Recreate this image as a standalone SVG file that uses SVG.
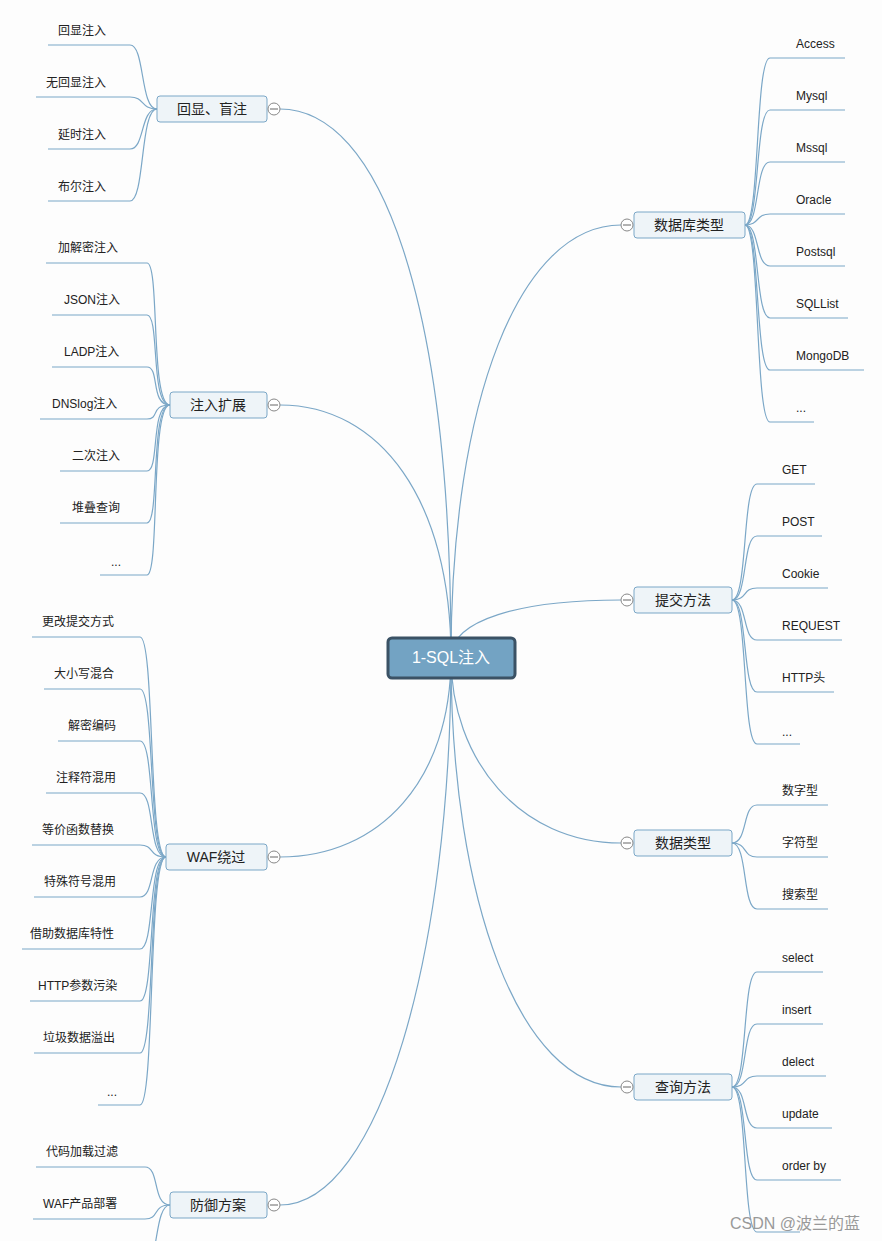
<svg xmlns="http://www.w3.org/2000/svg" width="882" height="1241" viewBox="0 0 882 1241">
<style>
.c{fill:none;stroke:#7ba7c7;stroke-width:1.2}
.n rect{fill:#eef4f8;stroke:#7ba7c7;stroke-width:1}
.n text{font-family:"Liberation Sans","Noto Sans CJK SC",sans-serif;font-size:14px;fill:#222;text-anchor:middle}
.l{font-family:"Liberation Sans","Noto Sans CJK SC",sans-serif;font-size:12px;fill:#222}
.k circle{fill:#fff;stroke:#888;stroke-width:1}
.k line{stroke:#666;stroke-width:1}
</style>
<rect width="882" height="1241" fill="#fdfdfd"/>
<g id="connectors">
<path class="c" d="M451,657 C451,300 380,109 280,109"/>
<path class="c" d="M451,657 C451,500 380,405 280,405"/>
<path class="c" d="M451,657 C451,780 380,857 280,857"/>
<path class="c" d="M451,657 C451,950 380,1205 280,1205"/>
<path class="c" d="M451,657 C451,400 520,225 621,225"/>
<path class="c" d="M451,657 C451,620 520,600 621,600"/>
<path class="c" d="M451,657 C451,760 520,843 621,843"/>
<path class="c" d="M451,657 C451,900 520,1087 621,1087"/>
<!-- 回显盲注 leaves -->
<path class="c" d="M157,109 C140,109 145,45 130,45 L48,45"/>
<path class="c" d="M157,109 C140,109 145,97 130,97 L36,97"/>
<path class="c" d="M157,109 C140,109 145,149 130,149 L48,149"/>
<path class="c" d="M157,109 C140,109 145,201 130,201 L48,201"/>
<!-- 注入扩展 leaves -->
<path class="c" d="M170,405 C150,405 160,263 147,263 L46,263"/>
<path class="c" d="M170,405 C150,405 160,315 147,315 L52,315"/>
<path class="c" d="M170,405 C150,405 160,367 147,367 L52,367"/>
<path class="c" d="M170,405 C150,405 160,419 147,419 L40,419"/>
<path class="c" d="M170,405 C150,405 160,471 147,471 L60,471"/>
<path class="c" d="M170,405 C150,405 160,523 147,523 L60,523"/>
<path class="c" d="M170,405 C150,405 160,575 147,575 L100,575"/>
<!-- WAF leaves -->
<path class="c" d="M166,857 C148,857 155,637 140,637 L32,637"/>
<path class="c" d="M166,857 C148,857 155,689 140,689 L44,689"/>
<path class="c" d="M166,857 C148,857 155,741 140,741 L58,741"/>
<path class="c" d="M166,857 C148,857 155,793 140,793 L46,793"/>
<path class="c" d="M166,857 C148,857 155,845 140,845 L32,845"/>
<path class="c" d="M166,857 C148,857 155,897 140,897 L34,897"/>
<path class="c" d="M166,857 C148,857 155,949 140,949 L22,949"/>
<path class="c" d="M166,857 C148,857 155,1001 140,1001 L30,1001"/>
<path class="c" d="M166,857 C148,857 155,1053 140,1053 L34,1053"/>
<path class="c" d="M166,857 C148,857 155,1105 140,1105 L98,1105"/>
<!-- 防御 leaves -->
<path class="c" d="M170,1205 C152,1205 160,1167 145,1167 L36,1167"/>
<path class="c" d="M170,1205 C152,1205 160,1219 145,1219 L33,1219"/>
<path class="c" d="M170,1205 C160,1205 158,1230 155,1245"/>
<!-- 数据库类型 leaves -->
<path class="c" d="M745,225 C760,225 755,58 770,58 L845,58"/>
<path class="c" d="M745,225 C760,225 755,110 770,110 L845,110"/>
<path class="c" d="M745,225 C760,225 755,162 770,162 L845,162"/>
<path class="c" d="M745,225 C760,225 755,214 770,214 L845,214"/>
<path class="c" d="M745,225 C760,225 755,266 770,266 L845,266"/>
<path class="c" d="M745,225 C760,225 755,318 770,318 L848,318"/>
<path class="c" d="M745,225 C760,225 755,370 770,370 L864,370"/>
<path class="c" d="M745,225 C760,225 755,422 770,422 L814,422"/>
<!-- 提交方法 leaves -->
<path class="c" d="M732,600 C748,600 742,484 757,484 L815,484"/>
<path class="c" d="M732,600 C748,600 742,536 757,536 L822,536"/>
<path class="c" d="M732,600 C748,600 742,588 757,588 L828,588"/>
<path class="c" d="M732,600 C748,600 742,640 757,640 L842,640"/>
<path class="c" d="M732,600 C748,600 742,692 757,692 L834,692"/>
<path class="c" d="M732,600 C748,600 742,744 757,744 L800,744"/>
<!-- 数据类型 leaves -->
<path class="c" d="M732,843 C748,843 742,805 757,805 L828,805"/>
<path class="c" d="M732,843 C748,843 742,857 757,857 L828,857"/>
<path class="c" d="M732,843 C748,843 742,909 757,909 L828,909"/>
<!-- 查询方法 leaves -->
<path class="c" d="M732,1087 C748,1087 742,972 757,972 L823,972"/>
<path class="c" d="M732,1087 C748,1087 742,1024 757,1024 L823,1024"/>
<path class="c" d="M732,1087 C748,1087 742,1076 757,1076 L826,1076"/>
<path class="c" d="M732,1087 C748,1087 742,1128 757,1128 L832,1128"/>
<path class="c" d="M732,1087 C748,1087 742,1180 757,1180 L841,1180"/>
<path class="c" d="M732,1087 C748,1087 742,1232 757,1232 L800,1232"/>
</g>
<g id="center">
<rect x="388" y="638" width="127" height="40" rx="4" fill="#73a3c3" stroke="#3b5265" stroke-width="3"/>
<text x="451" y="663" font-family="Liberation Sans,'Noto Sans CJK SC',sans-serif" font-size="16" fill="#fff" text-anchor="middle">1-SQL注入</text>
</g>
<g id="n1" class="n"><rect x="157" y="96" width="110" height="26" rx="3"/><text x="212" y="114">回显、盲注</text></g>
<g id="n2" class="n"><rect x="170" y="392" width="97" height="26" rx="3"/><text x="218" y="410">注入扩展</text></g>
<g id="n3" class="n"><rect x="166" y="844" width="101" height="26" rx="3"/><text x="216" y="862">WAF绕过</text></g>
<g id="n4" class="n"><rect x="170" y="1192" width="97" height="26" rx="3"/><text x="218" y="1210">防御方案</text></g>
<g id="n5" class="n"><rect x="634" y="212" width="111" height="26" rx="3"/><text x="689" y="230">数据库类型</text></g>
<g id="n6" class="n"><rect x="634" y="587" width="98" height="26" rx="3"/><text x="683" y="605">提交方法</text></g>
<g id="n7" class="n"><rect x="634" y="830" width="98" height="26" rx="3"/><text x="683" y="848">数据类型</text></g>
<g id="n8" class="n"><rect x="634" y="1074" width="98" height="26" rx="3"/><text x="683" y="1092">查询方法</text></g>
<g id="toggles" class="k">
<circle cx="274" cy="109" r="6"/><line x1="270" y1="109" x2="278" y2="109"/>
<circle cx="274" cy="405" r="6"/><line x1="270" y1="405" x2="278" y2="405"/>
<circle cx="274" cy="857" r="6"/><line x1="270" y1="857" x2="278" y2="857"/>
<circle cx="274" cy="1205" r="6"/><line x1="270" y1="1205" x2="278" y2="1205"/>
<circle cx="627" cy="225" r="6"/><line x1="623" y1="225" x2="631" y2="225"/>
<circle cx="627" cy="600" r="6"/><line x1="623" y1="600" x2="631" y2="600"/>
<circle cx="627" cy="843" r="6"/><line x1="623" y1="843" x2="631" y2="843"/>
<circle cx="627" cy="1087" r="6"/><line x1="623" y1="1087" x2="631" y2="1087"/>
</g>
<g id="leaves" class="l">
<text x="58" y="35">回显注入</text>
<text x="46" y="87">无回显注入</text>
<text x="58" y="139">延时注入</text>
<text x="58" y="191">布尔注入</text>
<text x="58" y="252">加解密注入</text>
<text x="64" y="304">JSON注入</text>
<text x="64" y="356">LADP注入</text>
<text x="52" y="408">DNSlog注入</text>
<text x="72" y="460">二次注入</text>
<text x="72" y="512">堆叠查询</text>
<text x="111" y="566">...</text>
<text x="42" y="626">更改提交方式</text>
<text x="54" y="678">大小写混合</text>
<text x="68" y="730">解密编码</text>
<text x="56" y="782">注释符混用</text>
<text x="42" y="834">等价函数替换</text>
<text x="44" y="886">特殊符号混用</text>
<text x="30" y="938">借助数据库特性</text>
<text x="38" y="990">HTTP参数污染</text>
<text x="43" y="1042">垃圾数据溢出</text>
<text x="107" y="1096">...</text>
<text x="46" y="1156">代码加载过滤</text>
<text x="43" y="1208">WAF产品部署</text>
<text x="796" y="48">Access</text>
<text x="796" y="100">Mysql</text>
<text x="796" y="152">Mssql</text>
<text x="796" y="204">Oracle</text>
<text x="796" y="256">Postsql</text>
<text x="796" y="308">SQLList</text>
<text x="796" y="360">MongoDB</text>
<text x="796" y="412">...</text>
<text x="782" y="474">GET</text>
<text x="782" y="526">POST</text>
<text x="782" y="578">Cookie</text>
<text x="782" y="630">REQUEST</text>
<text x="782" y="682">HTTP头</text>
<text x="782" y="736">...</text>
<text x="782" y="795">数字型</text>
<text x="782" y="847">字符型</text>
<text x="782" y="899">搜索型</text>
<text x="782" y="962">select</text>
<text x="782" y="1014">insert</text>
<text x="782" y="1066">delect</text>
<text x="782" y="1118">update</text>
<text x="782" y="1170">order by</text>
</g>
<text x="730" y="1229" font-family="Liberation Sans,'Noto Sans CJK SC',sans-serif" font-size="16" fill="#999">CSDN @波兰的蓝</text>
</svg>
